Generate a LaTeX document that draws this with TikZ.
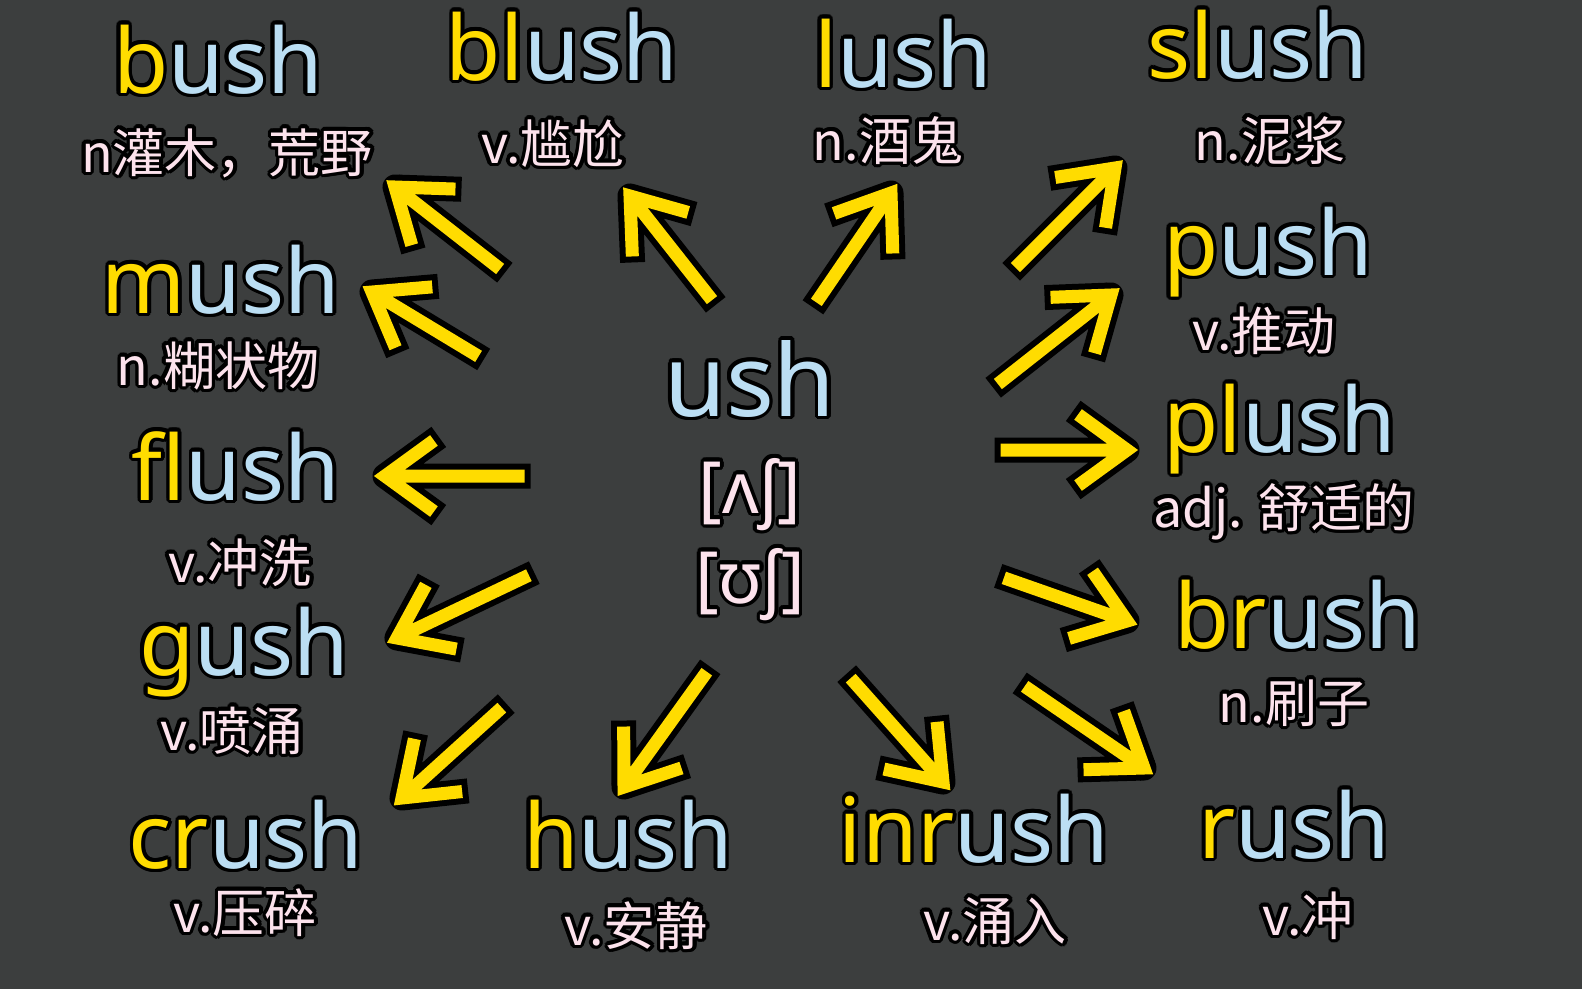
\documentclass[tikz,border=0pt]{standalone}
\usepackage{fontspec}
\setmainfont{Noto Sans}
\newfontfamily\cjk{Noto Sans CJK SC}
\usepackage{contour}
\contourlength{3.5pt}
\contournumber{16}
\usetikzlibrary{calc}

\definecolor{board}{RGB}{60,62,62}
\definecolor{pfx}{RGB}{255,220,0}
\definecolor{ushblue}{RGB}{187,222,243}
\definecolor{glosspink}{RGB}{252,226,236}

\newcommand{\rhyme}[1]{\textcolor{pfx}{\contour{black}{#1}}\textcolor{ushblue}{\contour{black}{ush}}}
\newcommand{\glosstext}[1]{\textcolor{glosspink}{\contour{black}{#1}}}

\tikzset{
  word/.style={anchor=base, inner sep=0pt, font=\fontsize{90}{90}\selectfont},
  gloss/.style={anchor=base, inner sep=0pt, font=\cjk\fontsize{52}{52}\selectfont},
  ipa/.style={anchor=base, inner sep=0pt, font=\fontsize{72}{72}\selectfont},
  arrowback/.style={draw=black, line width=25pt, line cap=rect, line join=round},
  arrowfront/.style={draw=pfx, line width=13pt, line cap=rect, line join=miter},
}

\begin{document}
\begin{tikzpicture}[x=1pt,y=-1pt]

  \fill[board] (0,0) rectangle (1582,989);
  \useasboundingbox (0,0) rectangle (1582,989);

  % centre
  \node[word, font=\fontsize{100}{100}\selectfont] (ush) at (750,416) {\textcolor{ushblue}{\contour{black}{ush}}};
  \node[ipa] (ipa1) at (750,513) {\glosstext{[ʌʃ]}};
  \node[ipa] (ipa2) at (750,603) {\glosstext{[ʊʃ]}};

  % words
  \node[word] (bush)   at (218,93)  {\rhyme{b}};
  \node[word] (blush)  at (562,80)  {\rhyme{bl}};
  \node[word] (lush)   at (903,87)  {\rhyme{l}};
  \node[word] (slush)  at (1258,78) {\rhyme{sl}};
  \node[word] (push)   at (1268,275) {\rhyme{p}};
  \node[word] (plush)  at (1280,452) {\rhyme{pl}};
  \node[word] (brush)  at (1298,648) {\rhyme{br}};
  \node[word] (rush)   at (1294,858) {\rhyme{r}};
  \node[word] (inrush) at (974,862) {\rhyme{inr}};
  \node[word] (hush)   at (628,868) {\rhyme{h}};
  \node[word] (crush)  at (246,868) {\rhyme{cr}};
  \node[word] (gush)   at (244,675) {\rhyme{g}};
  \node[word] (flush)  at (236,500) {\rhyme{fl}};
  \node[word] (mush)   at (221,313) {\rhyme{m}};

  % meanings
  \node[gloss] (bush-g)   at (227,172) {\glosstext{n灌木，荒野}};
  \node[gloss] (blush-g)  at (553,163) {\glosstext{v.尴尬}};
  \node[gloss] (lush-g)   at (888,160) {\glosstext{n.酒鬼}};
  \node[gloss] (slush-g)  at (1270,160) {\glosstext{n.泥浆}};
  \node[gloss] (push-g)   at (1264,350) {\glosstext{v.推动}};
  \node[gloss] (plush-g)  at (1284,527) {\glosstext{adj. 舒适的}};
  \node[gloss] (brush-g)  at (1294,722) {\glosstext{n.刷子}};
  \node[gloss] (rush-g)   at (1308,935) {\glosstext{v.冲}};
  \node[gloss] (inrush-g) at (995,940) {\glosstext{v.涌入}};
  \node[gloss] (hush-g)   at (636,945) {\glosstext{v.安静}};
  \node[gloss] (crush-g)  at (245,932) {\glosstext{v.压碎}};
  \node[gloss] (gush-g)   at (232,750) {\glosstext{v.喷涌}};
  \node[gloss] (flush-g)  at (240,582) {\glosstext{v.冲洗}};
  \node[gloss] (mush-g)   at (218,385) {\glosstext{n.糊状物}};

  % arrow tails and tips
  \coordinate (t-bush)   at (495,265);  \coordinate (h-bush)   at (395,187);
  \coordinate (t-mush)   at (473,353);  \coordinate (h-mush)   at (372,292);
  \coordinate (t-flush)  at (518,476);  \coordinate (h-flush)  at (385,476);
  \coordinate (t-gush)   at (523,578);  \coordinate (h-gush)   at (397,638);
  \coordinate (t-crush)  at (497,712);  \coordinate (h-crush)  at (402,798);
  \coordinate (t-hush)   at (703,677);  \coordinate (h-hush)   at (624,787);
  \coordinate (t-blush)  at (708,295);  \coordinate (h-blush)  at (630,196);
  \coordinate (t-lush)   at (820,297);  \coordinate (h-lush)   at (891,193);
  \coordinate (t-slush)  at (1020,263); \coordinate (h-slush)  at (1115,168);
  \coordinate (t-push)   at (1003,380); \coordinate (h-push)   at (1111,295);
  \coordinate (t-plush)  at (1007,450); \coordinate (h-plush)  at (1127,450);
  \coordinate (t-brush)  at (1010,580); \coordinate (h-brush)  at (1127,621);
  \coordinate (t-inrush) at (855,683);  \coordinate (h-inrush) at (943,782);
  \coordinate (t-rush)   at (1030,690); \coordinate (h-rush)   at (1144,768);

  % arrows
  \foreach \w in {bush,mush,flush,gush,crush,hush,blush,lush,slush,push,plush,brush,inrush,rush}{
    \foreach \s in {arrowback,arrowfront}{
      \draw[\s] (t-\w) -- ($(h-\w)!8pt!(t-\w)$)
        ($(h-\w)!54pt!36:(t-\w)$) -- (h-\w) -- ($(h-\w)!54pt!-36:(t-\w)$);
    }
  }

\end{tikzpicture}
\end{document}
